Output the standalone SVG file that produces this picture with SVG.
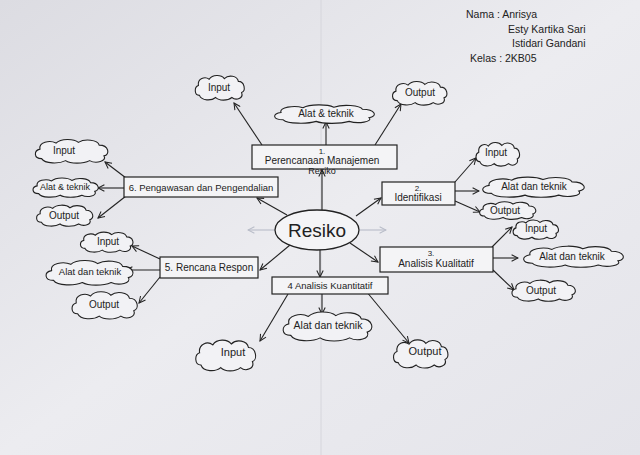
<svg xmlns="http://www.w3.org/2000/svg" width="640" height="455" viewBox="0 0 640 455">
<style>
  .t{font-family:"Liberation Sans",Arial,sans-serif;font-size:10px;fill:#222;text-anchor:middle}
  .h{font-family:"Liberation Sans",Arial,sans-serif;font-size:10.5px;fill:#222}
  .box{fill:#f4f4f6;stroke:#222;stroke-width:1.2}
  .c{fill:#f2f2f5;stroke:#222;stroke-width:1.1}
  .a{stroke:#222;stroke-width:1.1;fill:none;marker-end:url(#ah)}
  .g{stroke:#b8bcc8;stroke-width:1.1;fill:none;marker-end:url(#gh)}
</style>
<defs>
  <linearGradient id="paper" x1="0" y1="0" x2="1" y2="1">
    <stop offset="0" stop-color="#dcdce2"/>
    <stop offset="0.5" stop-color="#ececf0"/>
    <stop offset="1" stop-color="#e4e4ea"/>
  </linearGradient>
  <marker id="ah" viewBox="0 0 10 10" refX="9" refY="5" markerWidth="8" markerHeight="8" orient="auto" markerUnits="userSpaceOnUse">
    <path d="M1,1 L9,5 L1,9" fill="none" stroke="#222" stroke-width="1.3"/>
  </marker>
  <marker id="gh" viewBox="0 0 10 10" refX="9" refY="5" markerWidth="8" markerHeight="8" orient="auto" markerUnits="userSpaceOnUse">
    <path d="M1,1 L9,5 L1,9" fill="none" stroke="#b8bcc8" stroke-width="1.3"/>
  </marker>
  <symbol id="cloud" viewBox="0 0 100 40" preserveAspectRatio="none">
    <path class="c" vector-effect="non-scaling-stroke" d="M12,32 C2,32 2,20 10,18 C8,8 22,4 30,9 C36,2 52,2 58,8 C66,2 82,4 84,12 C96,12 98,26 90,28 C94,36 80,40 72,35 C64,40 48,40 42,35 C34,40 16,40 12,32 Z"/>
  </symbol>
</defs>
<rect width="640" height="455" fill="url(#paper)"/>
<line x1="321" y1="0" x2="321" y2="455" stroke="#d6d6dc" stroke-width="1"/>

<g id="header">
  <text class="h" x="466" y="18">Nama : Anrisya</text>
  <text class="h" x="508" y="33">Esty Kartika Sari</text>
  <text class="h" x="512" y="47">Istidari Gandani</text>
  <text class="h" x="470" y="62">Kelas :  2KB05</text>
</g>

<g id="connectors">
  <path class="g" d="M275,230 L248,230"/>
  <path class="g" d="M360,230 L386,230"/>
  <path class="a" d="M322,210 L322,170"/>
  <path class="a" d="M287,215 L257,198"/>
  <path class="a" d="M356,216 L381,198"/>
  <path class="a" d="M290,245 L260,270"/>
  <path class="a" d="M350,243 L378,262"/>
  <path class="a" d="M320,250 L320,277"/>
  <!-- 1 -->
  <path class="a" d="M262,145 L234,103"/>
  <path class="a" d="M326,145 L326,122"/>
  <path class="a" d="M375,145 L401,104"/>
  <!-- 6 -->
  <path class="a" d="M126,178 L105,162"/>
  <path class="a" d="M124,188 L98,188"/>
  <path class="a" d="M126,196 L98,218"/>
  <!-- 5 -->
  <path class="a" d="M160,259 L132,246"/>
  <path class="a" d="M160,270 L126,270"/>
  <path class="a" d="M160,277 L139,303"/>
  <!-- 4 -->
  <path class="a" d="M322,294 L322,314"/>
  <path class="a" d="M288,294 L260,341"/>
  <path class="a" d="M366,291 L409,343"/>
  <!-- 2 -->
  <path class="a" d="M455,182 L476,158"/>
  <path class="a" d="M455,191 L479,191"/>
  <path class="a" d="M455,201 L480,212"/>
  <!-- 3 -->
  <path class="a" d="M492,247 L512,227"/>
  <path class="a" d="M493,258 L518,258"/>
  <path class="a" d="M493,270 L514,290"/>
</g>

<g id="resiko">
  <ellipse cx="317" cy="230" rx="42" ry="20" fill="#f4f4f6" stroke="#222" stroke-width="1.3"/>
  <text x="317" y="237" style="font-family:'Liberation Sans',Arial,sans-serif;font-size:19px;fill:#222;text-anchor:middle">Resiko</text>
</g>

<g id="n1">
  <rect class="box" x="252" y="145" width="145" height="24"/>
  <text class="t" x="322" y="154" style="font-size:8px">1.</text>
  <text class="t" x="322" y="164">Perencanaan Manajemen</text>
  <text class="t" x="322" y="174" style="font-size:9px">Resiko</text>
</g>
<g id="n1-in"><use href="#cloud" x="193" y="73" width="54" height="28"/><text class="t" x="219" y="91">Input</text></g>
<g id="n1-alat"><use href="#cloud" x="270" y="103" width="110" height="21"/><text class="t" x="326" y="117">Alat &amp; teknik</text></g>
<g id="n1-out"><use href="#cloud" x="390" y="79" width="60" height="27"/><text class="t" x="420" y="96">Output</text></g>

<g id="n6">
  <rect class="box" x="124" y="177" width="154" height="20"/>
  <text class="t" x="201" y="190.5" style="font-size:9.5px">6. Pengawasan dan Pengendalian</text>
</g>
<g id="n6-in"><use href="#cloud" x="32" y="137" width="80" height="27"/><text class="t" x="64" y="154">Input</text></g>
<g id="n6-alat"><use href="#cloud" x="30" y="176" width="72" height="22"/><text class="t" x="65" y="190" style="font-size:9px">Alat &amp; teknik</text></g>
<g id="n6-out"><use href="#cloud" x="34" y="203" width="62" height="24"/><text class="t" x="64" y="219">Output</text></g>

<g id="n5">
  <rect class="box" x="160" y="257" width="98" height="21"/>
  <text class="t" x="209" y="271">5. Rencana Respon</text>
</g>
<g id="n5-in"><use href="#cloud" x="78" y="230" width="58" height="23"/><text class="t" x="108" y="245">Input</text></g>
<g id="n5-alat"><use href="#cloud" x="42" y="258" width="96" height="28"/><text class="t" x="90" y="275" style="font-size:9.5px">Alat dan teknik</text></g>
<g id="n5-out"><use href="#cloud" x="69" y="289" width="72" height="31"/><text class="t" x="104" y="308">Output</text></g>

<g id="n4">
  <rect class="box" x="272" y="277" width="116" height="17"/>
  <text class="t" x="330" y="289" style="font-size:9.5px">4 Analisis Kuantitatif</text>
</g>
<g id="n4-alat"><use href="#cloud" x="279" y="309" width="98" height="33"/><text class="t" x="328" y="329" style="font-size:10.5px">Alat dan teknik</text></g>
<g id="n4-in"><use href="#cloud" x="193" y="337" width="66" height="35"/><text class="t" x="233" y="356" style="font-size:11px">Input</text></g>
<g id="n4-out"><use href="#cloud" x="391" y="337" width="60" height="32"/><text class="t" x="425" y="355" style="font-size:11px">Output</text></g>

<g id="n2">
  <rect class="box" x="382" y="182" width="73" height="23"/>
  <text class="t" x="418" y="191" style="font-size:8px">2.</text>
  <text class="t" x="418" y="201">Identifikasi</text>
</g>
<g id="n2-in"><use href="#cloud" x="474" y="140" width="48" height="27"/><text class="t" x="496" y="156">Input</text></g>
<g id="n2-alat"><use href="#cloud" x="478" y="175" width="112" height="23"/><text class="t" x="534" y="190">Alat dan teknik</text></g>
<g id="n2-out"><use href="#cloud" x="477" y="200" width="62" height="20"/><text class="t" x="505" y="214">Output</text></g>

<g id="n3">
  <rect class="box" x="380" y="247" width="113" height="25"/>
  <text class="t" x="431" y="256" style="font-size:8px">3.</text>
  <text class="t" x="436" y="267">Analisis  Kualitatif</text>
</g>
<g id="n3-in"><use href="#cloud" x="511" y="218" width="50" height="22"/><text class="t" x="536" y="232">Input</text></g>
<g id="n3-alat"><use href="#cloud" x="519" y="244" width="110" height="24"/><text class="t" x="572" y="260">Alat dan teknik</text></g>
<g id="n3-out"><use href="#cloud" x="509" y="278" width="70" height="24"/><text class="t" x="541" y="294">Output</text></g>
</svg>
